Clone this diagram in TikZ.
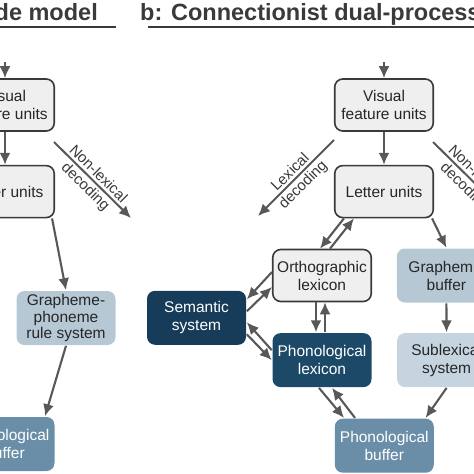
\documentclass[tikz,border=0pt]{standalone}
\usepackage{fontspec}
\setmainfont{Liberation Sans}
\usetikzlibrary{positioning, calc, arrows.meta}

\definecolor{boxgray}{HTML}{EFEFEF}
\definecolor{edgegray}{HTML}{3A3A3A}
\definecolor{arrowgray}{HTML}{585858}
\definecolor{titlegray}{HTML}{3A3A3A}
\definecolor{paleblue}{HTML}{B7C8D5}
\definecolor{paleblue2}{HTML}{C5D4DF}
\definecolor{midblue}{HTML}{6A8EA7}
\definecolor{darkblue}{HTML}{163C5A}
\definecolor{darkblue2}{HTML}{1D4969}

\newcommand\boxfont{\fontsize{15.5}{18}\selectfont}
\newcommand\labfont{\fontsize{15}{17}\selectfont}
\newcommand\headfont{\fontsize{23.5}{26}\selectfont\bfseries}

\begin{document}
\begin{tikzpicture}[x=1pt, y=-1pt,
  unit/.style={rectangle, draw=edgegray, line width=1.6pt, rounded corners=8pt, fill=boxgray, text=black!85, minimum width=98.5pt, minimum height=52pt, inner sep=2pt, align=center, font=\boxfont},
  paleunit/.style={unit, draw=none, fill=paleblue, minimum width=99pt, minimum height=54pt},
  midunit/.style={paleunit, fill=midblue, text=white},
  darkunit/.style={paleunit, fill=darkblue, text=white},
  arrow/.style={-{Latex[length=12pt,width=11pt]}, line width=2.1pt, draw=arrowgray},
  route/.style={arrow, line width=2pt},
  heading/.style={font=\headfont, text=titlegray, inner sep=0pt}
]
  \path[use as bounding box, clip] (0,0) rectangle (474,474);

  % headings
  \node[heading, anchor=base east] (titA) at (98,20) {de model};
  \node[heading, anchor=base west] (titB) at (140,20) {b: Connectionist dual-process};
  \draw[titlegray, line width=2.2pt] (0,27) -- (116,27);
  \draw[titlegray, line width=2.2pt] (148,27) -- (474,27);

  % a: left model
  \node[unit] (visA) at (5,105) {Visual\\feature units};
  \node[unit, below=33pt of visA] (lettA) {Letter units};
  \node[paleunit, font=\fontsize{15.5}{16.5}\selectfont] (gpc) at (66,318) {Grapheme-\\phoneme\\rule system};
  \node[midunit] (pbufA) at (5,444) {Phonological\\buffer};

  \coordinate (inA) at (5,62);
  \coordinate (nlA1) at (54,142);
  \coordinate (nlA2) at (131,218);

  \draw[arrow] (inA) -- (visA);
  \draw[arrow] (visA) -- (lettA);
  \draw[route] (nlA1) -- (nlA2)
    node[midway, sloped, above, font=\labfont, text=titlegray, inner sep=2.5pt] {Non-lexical}
    node[midway, sloped, below, font=\labfont, text=titlegray, inner sep=2.5pt] {decoding};
  \draw[arrow] ([xshift=-3pt]lettA.south east) -- (gpc.north);
  \draw[arrow] (gpc.south) -- ([xshift=40pt]pbufA.north);

  % b: right model
  \node[unit] (visB) at (384,105) {Visual\\feature units};
  \node[unit, below=33pt of visB] (lettB) {Letter units};
  \node[unit] (ortho) at (322,275.5) {Orthographic\\lexicon};
  \node[paleunit, right=24pt of ortho] (graph) {Graphemic\\buffer};
  \node[darkunit, fill=darkblue2, below=30pt of ortho] (phonlex) {Phonological\\lexicon};
  \node[paleunit, fill=paleblue2, right=24pt of phonlex] (sublex) {Sublexical\\system};
  \node[darkunit, left=25pt of $(ortho.west)!0.5!(phonlex.west)$] (sem) {Semantic\\system};
  \node[midunit, below=30pt of $(phonlex.south)!0.5!(sublex.south)$] (pbufB) {Phonological\\buffer};

  \coordinate (inB) at (384,62);
  \coordinate (lxB1) at (334,140);
  \coordinate (lxB2) at (258,216);
  \coordinate (nlB1) at (433,142);
  \coordinate (nlB2) at (510,218);

  \draw[arrow] (inB) -- (visB);
  \draw[arrow] (visB) -- (lettB);
  \draw[route] (lxB1) -- (lxB2)
    node[midway, sloped, above, font=\labfont, text=titlegray, inner sep=2.5pt] {Lexical}
    node[midway, sloped, below, font=\labfont, text=titlegray, inner sep=2.5pt] {decoding};
  \draw[route] (nlB1) -- (nlB2)
    node[midway, sloped, above, font=\labfont, text=titlegray, inner sep=2.5pt] {Non-lexical}
    node[midway, sloped, below, font=\labfont, text=titlegray, inner sep=2.5pt] {decoding};

  \draw[arrow] ([xshift=10pt]lettB.south west) -- ([xshift=-2pt]ortho.north);
  \draw[arrow] ([xshift=8pt]ortho.north) -- ([xshift=20pt]lettB.south west);
  \draw[arrow] ([xshift=-2pt]lettB.south east) -- (graph.north);
  \draw[arrow] (graph) -- (sublex);
  \draw[arrow] (sublex.south) -- ([xshift=-9pt]pbufB.north east);

  \draw[arrow] ([xshift=-6pt]ortho.south) -- ([xshift=-6pt]phonlex.north);
  \draw[arrow] ([xshift=3pt]phonlex.north) -- ([xshift=3pt]ortho.south);

  \draw[arrow] ([yshift=3.5pt]ortho.west) -- ([yshift=18.5pt]sem.east);
  \draw[arrow] ([yshift=6.5pt]sem.east) -- ([yshift=-11.5pt]ortho.west);
  \draw[arrow] ([yshift=10pt]phonlex.west) -- ([yshift=-4.5pt]sem.east);
  \draw[arrow] ([yshift=-16.5pt]sem.east) -- (phonlex.west);

  \draw[arrow] ([xshift=-3pt]phonlex.south) -- ([xshift=10pt]pbufB.north west);
  \draw[arrow] ([xshift=21pt]pbufB.north west) -- ([xshift=10pt]phonlex.south);
\end{tikzpicture}
\end{document}
